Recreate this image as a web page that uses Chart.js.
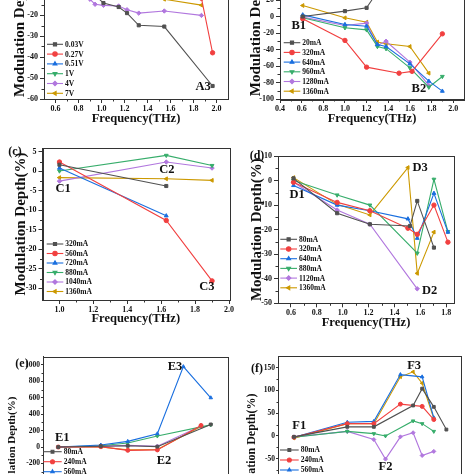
<!DOCTYPE html>
<html><head><meta charset="utf-8">
<script src="https://cdn.jsdelivr.net/npm/chart.js@4/dist/chart.umd.min.js"></script>
<style>
html,body{margin:0;padding:0;background:#fff;width:474px;height:474px;overflow:hidden;position:relative}
canvas{position:absolute}
</style></head><body>
<script>
// ---------- DATA ----------
// (a)
const aNames = ['0.03V','0.27V','0.51V','1V','4V','7V'];
const aFreq = [
  [0.6, 0.9, 0.944, 1.017, 1.149, 1.222, 1.324, 1.546, 1.966],
  [0.6, 0.9, 1.017, 1.222, 1.546, 1.869, 1.966],
  [0.6, 0.9, 1.017, 1.222, 1.546, 1.869],
  [0.6, 0.9, 1.017, 1.222, 1.546, 1.869],
  [0.6, 0.9, 0.944, 1.017, 1.149, 1.222, 1.324, 1.546, 1.869],
  [0.6, 0.9, 1.017, 1.222, 1.546, 1.869]
];
const aDepth = [
  [2, -6, -10.5, -14.3, -16.2, -19.1, -24.9, -25.5, -53.8],
  [5, 0, -4, -6, -8, -12, -38],
  [3, -3, -6, -8, -9, -10],
  [4, -2, -5, -7, -9, -11],
  [0, -12.5, -14.9, -15.4, -15.7, -17.5, -19.1, -18.1, -20.2],
  [6, 3, -2, -6, -12.5, -15.3]
];
const aXTicks = [0.6, 0.8, 1.0, 1.2, 1.4, 1.6, 1.8, 2.0];
const aYTicks = [-60, -50, -40, -30, -20, -10, 0, 10];
// (b)
const bNames = ['20mA','320mA','640mA','960mA','1280mA','1360mA'];
const bFreq = [
  [0.61, 1.0, 1.2, 1.3, 1.38, 1.6, 1.775],
  [0.61, 1.0, 1.2, 1.5, 1.62, 1.9],
  [0.61, 1.0, 1.2, 1.3, 1.38, 1.6, 1.775, 1.9],
  [0.61, 1.0, 1.2, 1.3, 1.38, 1.6, 1.775, 1.9],
  [0.61, 1.0, 1.2, 1.3, 1.38, 1.6, 1.775],
  [0.61, 1.0, 1.2, 1.3, 1.38, 1.6, 1.775]
];
const bDepth = [
  [0, 6.5, 10.5, 30, 42, 55, 62],
  [-2.8, -29, -61.4, -68.7, -66.5, -21],
  [2, -9.7, -11.7, -34, -36.4, -57.4, -78.4, -90.5],
  [-1.6, -13.7, -16.2, -36.4, -39, -62.2, -85.7, -72.7],
  [-0.8, -10.9, -8, -35, -30, -55.4, -83.6],
  [13.3, -1.6, -6.9, -31, -33, -36.4, -68.7]
];
const bXTicks = [0.4, 0.6, 0.8, 1.0, 1.2, 1.4, 1.6, 1.8, 2.0];
const bYTicks = [-100, -80, -60, -40, -20, 0, 20, 40, 60, 80];
// (c)
const cNames = ['320mA','560mA','720mA','880mA','1040mA','1360mA'];
const cFreq = [[1.0, 1.63], [1.0, 1.63, 1.9], [1.0, 1.63], [1.0, 1.63, 1.9], [1.0, 1.63, 1.9], [1.0, 1.63, 1.9]];
const cDepth = [[1.7, -3.75], [2.4, -12.6, -28.1], [0.85, -11.4], [0.1, 4.1, 1.5], [-2.5, 2.4, 0.85], [-1.6, -1.9, -2.3]];
const cXTicks = [1.0, 1.2, 1.4, 1.6, 1.8, 2.0];
const cYTicks = [-30, -25, -20, -15, -10, -5, 0, 5];
// (d)
const dNames = ['80mA','320mA','640mA','880mA','1120mA','1360mA'];
const dFreq = [
  [0.62, 0.957, 1.21, 1.52, 1.576, 1.705],
  [0.62, 0.957, 1.21, 1.504, 1.576, 1.705, 1.813],
  [0.62, 0.957, 1.21, 1.504, 1.576, 1.705, 1.813],
  [0.62, 0.957, 1.21, 1.576, 1.705, 1.813],
  [0.62, 0.957, 1.21, 1.576],
  [0.62, 0.957, 1.21, 1.504, 1.576, 1.705]
];
const dDepth = [
  [0.9, -13.3, -17.8, -18.5, -8.3, -27.3],
  [-0.7, -8.9, -12.3, -19.4, -21.9, -10, -25.1],
  [-2, -10, -12.3, -15.6, -23.5, -5.2, -21],
  [0, -5.9, -10, -29.6, 0.5, -20.8],
  [-0.7, -12, -17.8, -44.1],
  [1.2, -9.7, -14, 5.3, -37.8, -21]
];
const dXTicks = [0.6, 0.8, 1.0, 1.2, 1.4, 1.6, 1.8];
const dYTicks = [-50, -40, -30, -20, -10, 0, 10];
// (e)
const eNames = ['80mA','240mA','560mA','880mA','1120mA','1360mA'];
const eFreq = [
  [0.632, 1.0, 1.233, 1.489, 1.951],
  [0.632, 1.0, 1.233, 1.489, 1.867],
  [0.632, 1.0, 1.233, 1.489, 1.714, 1.951],
  [0.632, 1.0, 1.233, 1.489, 1.951],
  [0.632, 1.0, 1.233, 1.489, 1.867],
  [0.632, 1.0, 1.233, 1.489, 1.867]
];
const eDepth = [
  [0, 10, 15, 5, 275],
  [0, 5, -40, -35, 263],
  [0, 25, 69, 162, 979, 600],
  [0, 15, 49, 134, 270],
  [0, 8, 20, 10, 255],
  [0, 0, -35, -30, 250]
];
const eXTicks = [0.6, 0.8, 1.0, 1.2, 1.4, 1.6, 1.8, 2.0];
const eYTicks = [-1000, -800, -600, -400, -200, 0, 200, 400, 600, 800, 1000];
// (f)
const fNames = ['80mA','240mA','560mA','880mA','1120mA','1360mA'];
const fFreq = [
  [0.622, 1.029, 1.232, 1.532, 1.601, 1.69, 1.786],
  [0.622, 1.029, 1.232, 1.435, 1.601, 1.69],
  [0.622, 1.029, 1.232, 1.435, 1.601, 1.69],
  [0.622, 1.029, 1.232, 1.321, 1.532, 1.601, 1.69],
  [0.622, 1.029, 1.232, 1.321, 1.435, 1.532, 1.601, 1.69],
  [0.622, 1.029, 1.232, 1.435, 1.532, 1.601, 1.69]
];
const fDepth = [
  [-2, 20, 20, 67, 104, 64, 14],
  [-3, 27, 27, 70, 65, 36],
  [-3, 30, 32, 135, 130, 40],
  [-3, 10, 5, 0, 33, 27, 10],
  [-2, 10, -8, -51, -2, 7, -43, -34],
  [-5, 27, 27, 130, 141, 116, 38]
];
const fXTicks = [0.6, 0.8, 1.0, 1.2, 1.4, 1.6, 1.8];
const fYTicks = [-200, -150, -100, -50, 0, 50, 100, 150];

// ---------- STYLE ----------
const COLORS = ['#515151', '#F14040', '#1A6FDF', '#37AD6B', '#B177DE', '#CC9900'];
const SHAPES = [['rect', 0], ['circle', 0], ['triangle', 0], ['triangle', 180], ['rectRot', 0], ['triangle', -90]];
const SERIF = "'Liberation Serif', 'Times New Roman', serif";
Chart.defaults.font.family = SERIF;
Chart.defaults.font.weight = 'bold';
Chart.defaults.color = '#111';

const decor = {
  id: 'decor',
  afterDatasetsDraw(chart, args, o) {
    const {ctx, chartArea: ca, scales} = chart;
    const ox = o.ox, oy = o.oy;
    ctx.save();
    ctx.strokeStyle = '#333';
    ctx.lineWidth = 1;
    ctx.strokeRect(Math.round(ca.left) + 0.5, Math.round(ca.top) + 0.5, Math.round(ca.right - ca.left), Math.round(ca.bottom - ca.top));
    // minor ticks (midpoints between major ticks)
    const xs = scales.x, ys = scales.y;
    const d = o.minorLen;
    ctx.beginPath();
    for (let i = 0; i < xs.ticks.length - 1; i++) {
      const px = Math.round(xs.getPixelForValue((xs.ticks[i].value + xs.ticks[i + 1].value) / 2)) + 0.5;
      ctx.moveTo(px, ca.bottom); ctx.lineTo(px, ca.bottom + d);
    }
    for (let i = 0; i < ys.ticks.length - 1; i++) {
      const py = Math.round(ys.getPixelForValue((ys.ticks[i].value + ys.ticks[i + 1].value) / 2)) + 0.5;
      ctx.moveTo(ca.left, py); ctx.lineTo(ca.left - d, py);
    }
    ctx.stroke();
    // legend
    const L = o.legend;
    chart.data.datasets.forEach((ds, i) => {
      const yy = L.y0 + i * L.dy - oy;
      const x0 = L.x0 - ox;
      ctx.strokeStyle = ds.borderColor;
      ctx.fillStyle = ds.borderColor;
      ctx.lineWidth = 1.1;
      ctx.beginPath(); ctx.moveTo(x0, yy); ctx.lineTo(x0 + L.len, yy); ctx.stroke();
      Chart.helpers.drawPoint(ctx, {pointStyle: ds.pointStyle, rotation: ds.pointRotation, radius: ds.pointRadius, borderWidth: 1}, x0 + L.len / 2, yy);
      ctx.fillStyle = '#111';
      ctx.font = 'bold ' + L.fs + 'px ' + SERIF;
      ctx.textAlign = 'left'; ctx.textBaseline = 'middle';
      ctx.fillText(ds.label, x0 + L.len + 2, yy + 0.5);
    });
    // notes
    ctx.fillStyle = '#111';
    ctx.font = 'bold ' + o.noteSize + 'px ' + SERIF;
    ctx.textAlign = 'center'; ctx.textBaseline = 'middle';
    o.notes.forEach(n => {
      ctx.fillText(n.t, scales.x.getPixelForValue(n.x), scales.y.getPixelForValue(n.y));
    });
    if (o.letter) {
      ctx.font = 'bold 12px ' + SERIF;
      ctx.fillText(o.letter.t, o.letter.x - ox, o.letter.y - oy);
    }
    ctx.restore();
  }
};

function panel(P) {
  const cv = document.createElement('canvas');
  cv.width = P.box.w; cv.height = P.box.h;
  cv.style.left = P.box.x + 'px'; cv.style.top = P.box.y + 'px';
  cv.style.width = P.box.w + 'px'; cv.style.height = P.box.h + 'px';
  document.body.appendChild(cv);
  const datasets = P.names.map((n, i) => ({
    label: n,
    data: P.freq[i].map((f, j) => ({x: f, y: P.depth[i][j]})),
    borderColor: COLORS[i], backgroundColor: COLORS[i],
    borderWidth: 1.1, pointStyle: SHAPES[i][0], pointRotation: SHAPES[i][1],
    pointRadius: P.mr, pointBorderWidth: 1, tension: 0
  }));
  const yW = P.plot.l - P.box.x;
  const xH = P.box.y + P.box.h - P.plot.b;
  const yTitleLH = P.ytFont * 1.2, xTitleLH = P.xtFont * 1.2;
  new Chart(cv, {
    type: 'line',
    data: {datasets},
    options: {
      responsive: false, animation: false, devicePixelRatio: 1,
      layout: {padding: {left: 0, top: P.plot.t - P.box.y, right: P.box.x + P.box.w - P.plot.r, bottom: 0}},
      plugins: {
        legend: {display: false}, tooltip: {enabled: false},
        decor: {ox: P.box.x, oy: P.box.y, legend: P.legend, notes: P.notes, noteSize: 12.5, letter: P.letter,
                minorLen: P.tickLen > 2 ? 2.5 : 1.5}
      },
      scales: {
        x: {
          type: 'linear', min: P.xr[0], max: P.xr[1],
          afterBuildTicks: s => { s.ticks = P.xt.map(v => ({value: v})); },
          afterFit: s => { s.height = xH; },
          grid: {display: true, drawOnChartArea: false, drawTicks: true, tickLength: P.tickLen, color: '#333', tickColor: '#333'},
          border: {display: true, color: '#333', width: 1},
          ticks: {font: {size: P.tickFont, weight: 'bold'}, color: '#111', padding: 1, maxRotation: 0, autoSkip: false,
                  callback: v => Number(v).toFixed(1)},
          title: {display: true, text: 'Frequency(THz)', font: {size: P.xtFont, weight: 'bold'}, color: '#111',
                  padding: {top: 0, bottom: (P.box.y + P.box.h - P.xTitleY) - xTitleLH / 2}}
        },
        y: {
          type: 'linear', min: P.yr[0], max: P.yr[1],
          afterBuildTicks: s => { s.ticks = P.yt.map(v => ({value: v})); },
          afterFit: s => { s.width = yW; },
          grid: {display: true, drawOnChartArea: false, drawTicks: true, tickLength: P.tickLen, color: '#333', tickColor: '#333'},
          border: {display: true, color: '#333', width: 1},
          ticks: {font: {size: P.tickFont, weight: 'bold'}, color: '#111', padding: P.tickPad, autoSkip: false,
                  callback: v => String(v)},
          title: {display: true, text: 'Modulation Depth(%)', font: {size: P.ytFont, weight: 'bold'}, color: '#111',
                  padding: {top: (P.yTitleX - P.box.x) - yTitleLH / 2, bottom: 0}}
        }
      }
    },
    plugins: [decor]
  });
}

panel({
  names: aNames, freq: aFreq, depth: aDepth, xt: aXTicks, yt: aYTicks,
  box: {x: 0, y: -70, w: 237, h: 200}, plot: {l: 44, t: -48, r: 228, b: 99},
  xr: [0.5, 2.1], yr: [-60, 10], yTitleX: 20, xTitleY: 118.7,
  ytFont: 15, xtFont: 12.5, tickFont: 8, tickLen: 4, tickPad: 2, mr: 2.2,
  legend: {x0: 47, y0: 44.3, dy: 9.8, len: 16, fs: 7.5},
  notes: [{t: 'A3', x: 1.883, y: -54.3}]
});
panel({
  names: bNames, freq: bFreq, depth: bDepth, xt: bXTicks, yt: bYTicks,
  box: {x: 237, y: -70, w: 237, h: 200}, plot: {l: 280, t: -49.5, r: 464, b: 99},
  xr: [0.4, 2.1], yr: [-100, 80], yTitleX: 256, xTitleY: 118.7,
  ytFont: 15, xtFont: 12.5, tickFont: 8, tickLen: 4, tickPad: 2, mr: 2.2,
  legend: {x0: 283.7, y0: 42.7, dy: 9.7, len: 16.6, fs: 7.5},
  notes: [{t: 'B1', x: 0.573, y: -11.5}, {t: 'B2', x: 1.683, y: -88.2}]
});
panel({
  names: cNames, freq: cFreq, depth: cDepth, xt: cXTicks, yt: cYTicks,
  box: {x: 0, y: 135, w: 237, h: 200}, plot: {l: 42.5, t: 148, r: 229, b: 300},
  xr: [0.9, 2.0], yr: [-33, 6], yTitleX: 21, xTitleY: 319,
  ytFont: 15, xtFont: 12.5, tickFont: 8, tickLen: 4, tickPad: 2, mr: 2.2,
  legend: {x0: 46.7, y0: 244, dy: 9.5, len: 16.6, fs: 7.5},
  notes: [{t: 'C1', x: 1.021, y: -4.5}, {t: 'C2', x: 1.634, y: 0.35}, {t: 'C3', x: 1.869, y: -29.7}],
  letter: {t: '(c)', x: 15, y: 151.7}
});
panel({
  names: dNames, freq: dFreq, depth: dDepth, xt: dXTicks, yt: dYTicks,
  box: {x: 237, y: 140, w: 237, h: 195}, plot: {l: 278, t: 156, r: 454, b: 303.3},
  xr: [0.5, 1.86], yr: [-50, 10], yTitleX: 257, xTitleY: 322.5,
  ytFont: 15, xtFont: 12.5, tickFont: 8, tickLen: 4, tickPad: 2, mr: 2.2,
  legend: {x0: 280.3, y0: 239.3, dy: 9.7, len: 16.7, fs: 7.5},
  notes: [{t: 'D1', x: 0.647, y: -5.9}, {t: 'D2', x: 1.671, y: -44.9}, {t: 'D3', x: 1.599, y: 5.1}],
  letter: {t: '(d)', x: 257, y: 156}
});
panel({
  names: eNames, freq: eFreq, depth: eDepth, xt: eXTicks, yt: eYTicks,
  box: {x: 0, y: 340, w: 237, h: 240}, plot: {l: 43, t: 356.7, r: 228, b: 541.5},
  xr: [0.5, 2.1], yr: [-1150, 1100], yTitleX: 12, xTitleY: 570,
  ytFont: 11, xtFont: 10, tickFont: 7.5, tickLen: 2, tickPad: 1, mr: 2,
  legend: {x0: 43.3, y0: 451.7, dy: 10, len: 18.4, fs: 7.5},
  notes: [{t: 'E1', x: 0.667, y: 118}, {t: 'E2', x: 1.547, y: -161}, {t: 'E3', x: 1.642, y: 979}],
  letter: {t: '(e)', x: 22, y: 364.3}
});
panel({
  names: fNames, freq: fFreq, depth: fDepth, xt: fXTicks, yt: fYTicks,
  box: {x: 237, y: 340, w: 237, h: 240}, plot: {l: 278, t: 356.4, r: 461.3, b: 545},
  xr: [0.5, 1.9], yr: [-240, 175], yTitleX: 252, xTitleY: 570,
  ytFont: 12, xtFont: 10, tickFont: 7.5, tickLen: 2, tickPad: 1, mr: 2,
  legend: {x0: 280, y0: 450, dy: 10, len: 18.7, fs: 7.5},
  notes: [{t: 'F1', x: 0.662, y: 21.4}, {t: 'F2', x: 1.321, y: -66.8}, {t: 'F3', x: 1.54, y: 153.8}],
  letter: {t: '(f)', x: 257, y: 369.3}
});
</script>
</body></html>
